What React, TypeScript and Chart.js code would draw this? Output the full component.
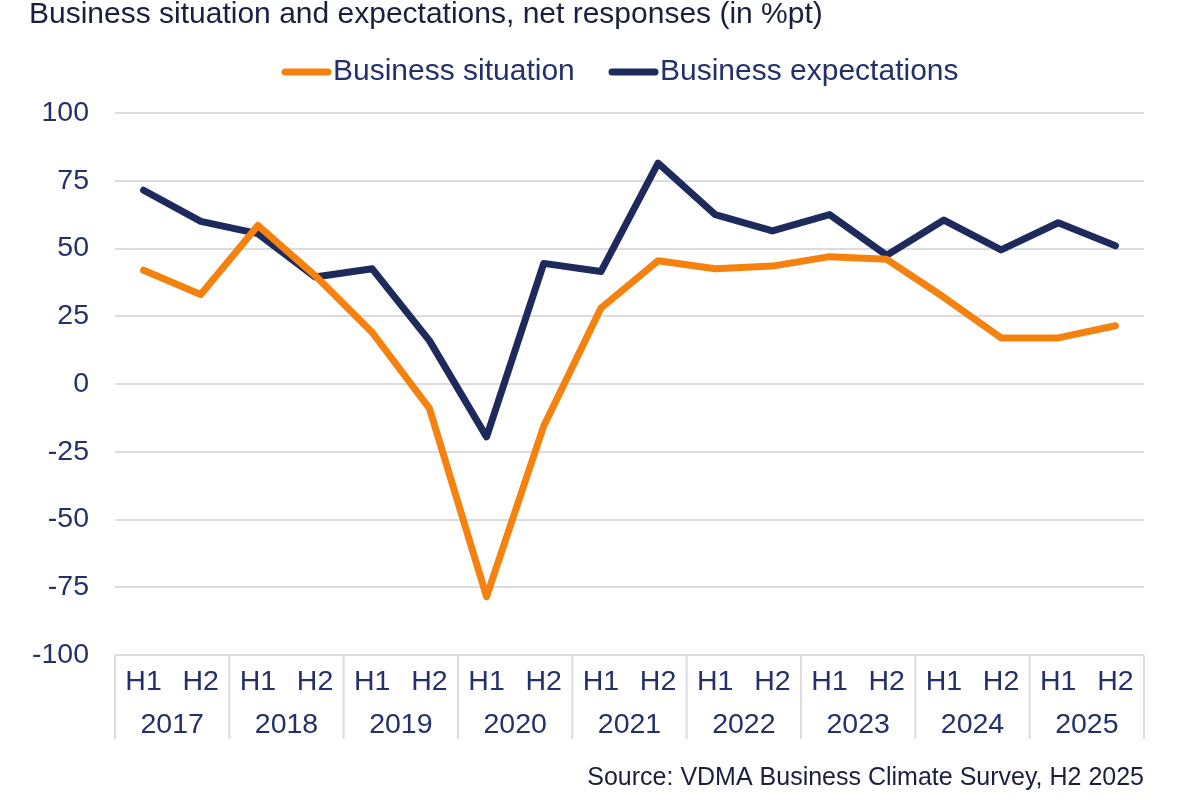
import { useEffect, useRef } from "react";
import { Chart, registerables } from "chart.js";

Chart.register(...registerables);

// Half-year periods and the years they belong to
const halves = ["H1", "H2", "H1", "H2", "H1", "H2", "H1", "H2", "H1", "H2", "H1", "H2", "H1", "H2", "H1", "H2", "H1", "H2"];
const years = ["2017", "2018", "2019", "2020", "2021", "2022", "2023", "2024", "2025"];

// Net responses in percentage points
const businessSituation = [42, 33, 58.5, 40, 19, -9, -78.5, -15.5, 28, 45.5, 42.5, 43.5, 47, 46, 32, 17, 17, 21.5];
const businessExpectations = [71.5, 60, 55.5, 39.5, 42.5, 16, -19.5, 44.5, 41.5, 81.5, 62.5, 56.5, 62.5, 47.5, 60.5, 49.5, 59.5, 51];

const yMin = -100;
const yMax = 100;
const yStep = 25;

const titleText = "Business situation and expectations, net responses (in %pt)";
const sourceText = "Source: VDMA Business Climate Survey, H2 2025";
const seriesNames = ["Business situation", "Business expectations"];

const ORANGE = "#F5820F";
const NAVY = "#1F2A5C";
const TEXT = "#25306A";
const TITLE = "#1A1F3D";
const GRID = "#DADCE2";
const FONT = "'Liberation Sans', Arial, sans-serif";
const AXIS_SIZE = 28.5;

const decorPlugin = {
  id: "decor",
  afterDraw(chart: any) {
    const { ctx, chartArea, scales } = chart;
    const x = scales.x;
    const bottom = 739;
    ctx.save();

    // Title
    ctx.fillStyle = TITLE;
    ctx.font = `30px ${FONT}`;
    ctx.textBaseline = "middle";
    ctx.textAlign = "left";
    ctx.fillText(titleText, 29, 15);

    // Legend
    const legendItems = [
      { color: ORANGE, label: seriesNames[0], x0: 282 },
      { color: NAVY, label: seriesNames[1], x0: 609 },
    ];
    ctx.font = `30px ${FONT}`;
    legendItems.forEach((it) => {
      ctx.strokeStyle = it.color;
      ctx.lineWidth = 7;
      ctx.lineCap = "round";
      ctx.beginPath();
      ctx.moveTo(it.x0 + 3, 72);
      ctx.lineTo(it.x0 + 46, 72);
      ctx.stroke();
      ctx.fillStyle = TEXT;
      ctx.fillText(it.label, it.x0 + 51, 72);
    });

    // Category box below the plot: year separators
    ctx.strokeStyle = GRID;
    ctx.lineWidth = 2;
    ctx.lineCap = "butt";
    for (let k = 0; k <= years.length; k++) {
      let px: number;
      if (k === 0) px = chartArea.left;
      else if (k === years.length) px = chartArea.right;
      else px = (x.getPixelForValue(2 * k - 1) + x.getPixelForValue(2 * k)) / 2;
      ctx.beginPath();
      ctx.moveTo(px, chartArea.bottom);
      ctx.lineTo(px, bottom);
      ctx.stroke();
    }

    // Year labels centred under each pair of halves
    ctx.fillStyle = TEXT;
    ctx.font = `${AXIS_SIZE}px ${FONT}`;
    ctx.textAlign = "center";
    years.forEach((yr, k) => {
      const cx = (x.getPixelForValue(2 * k) + x.getPixelForValue(2 * k + 1)) / 2;
      ctx.fillText(yr, cx, 725);
    });

    // Source note
    ctx.fillStyle = TITLE;
    ctx.font = `25px ${FONT}`;
    ctx.textAlign = "right";
    ctx.fillText(sourceText, chartArea.right, 778);

    ctx.restore();
  },
};

export default function App() {
  const canvasRef = useRef<HTMLCanvasElement | null>(null);

  useEffect(() => {
    if (!canvasRef.current) return;
    const chart = new Chart(canvasRef.current, {
      type: "line",
      data: {
        labels: halves,
        datasets: [
          {
            label: seriesNames[0],
            data: businessSituation,
            borderColor: ORANGE,
            backgroundColor: ORANGE,
            borderWidth: 7,
            pointRadius: 0,
            tension: 0,
            borderJoinStyle: "round",
            borderCapStyle: "round",
          },
          {
            label: seriesNames[1],
            data: businessExpectations,
            borderColor: NAVY,
            backgroundColor: NAVY,
            borderWidth: 7,
            pointRadius: 0,
            tension: 0,
            borderJoinStyle: "round",
            borderCapStyle: "round",
          },
        ],
      },
      options: {
        animation: false,
        responsive: true,
        maintainAspectRatio: false,
        layout: { padding: { top: 113, right: 56, bottom: 0, left: 0 } },
        plugins: {
          legend: { display: false },
          title: { display: false },
          tooltip: { enabled: false },
        },
        scales: {
          x: {
            offset: true,
            grid: { display: false, drawTicks: false },
            border: { display: false },
            ticks: {
              color: TEXT,
              font: { family: FONT, size: AXIS_SIZE },
              padding: 10,
              maxRotation: 0,
              autoSkip: false,
            },
            afterFit: (s: any) => {
              s.height = 145;
            },
          },
          y: {
            min: yMin,
            max: yMax,
            grid: { color: GRID, lineWidth: 2, drawTicks: false },
            border: { display: false },
            ticks: {
              stepSize: yStep,
              color: TEXT,
              font: { family: FONT, size: AXIS_SIZE },
              padding: 26,
            },
            afterFit: (s: any) => {
              s.width = 115;
            },
          },
        },
      },
      plugins: [decorPlugin],
    });
    return () => chart.destroy();
  }, []);

  return (
    <div style={{ position: "absolute", left: 0, top: 0, width: 1200, height: 800, background: "#fff" }}>
      <canvas ref={canvasRef} />
    </div>
  );
}
